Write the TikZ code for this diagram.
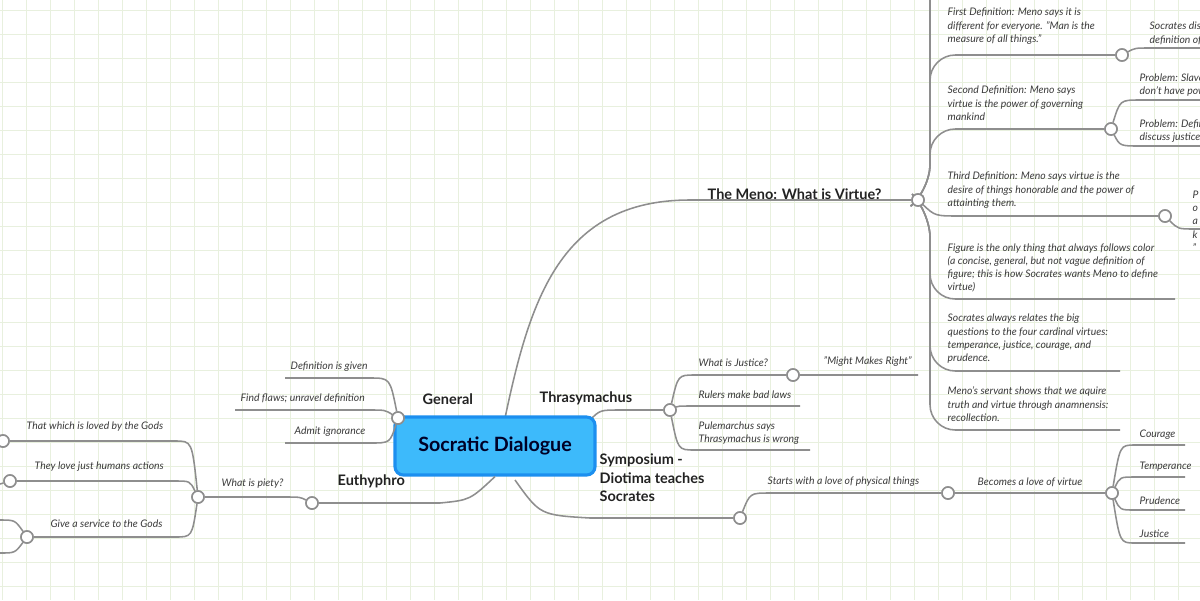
\documentclass[tikz,border=0pt]{standalone}
\usepackage{fontspec}
\setmainfont{Lato}
\begin{document}
\begin{tikzpicture}[x=0.025cm,y=-0.025cm,
  ln/.style={draw=lineg,line width=1.1pt},
  jn/.style={circle,draw=lineg,fill=white,line width=1.1pt,minimum size=0.3cm,inner sep=0pt},
  sm/.style={anchor=south west,inner sep=1pt,align=left,text=txt,font=\fontsize{7.4}{9.4}\selectfont\itshape},
  bg/.style={anchor=south west,inner sep=1pt,align=left,text=txtb,font=\fontsize{10.3}{13.3}\selectfont\bfseries}]
\definecolor{lineg}{HTML}{8E8E8E}\definecolor{txt}{HTML}{3A3A3A}\definecolor{txtb}{HTML}{222222}
\definecolor{grid}{HTML}{E8F0DE}\definecolor{cfill}{HTML}{3DBAFB}\definecolor{cdraw}{HTML}{1C8FEF}
\useasboundingbox (0,0) rectangle (1200,600);
\clip (0,0) rectangle (1200,600);
\fill[white] (0,0) rectangle (1200,600);
\foreach \i in {0,...,50} {\draw[grid,line width=0.5pt] (2+\i*24,0) -- (2+\i*24,600);}
\foreach \i in {0,...,25} {\draw[grid,line width=0.5pt] (0,10+\i*24) -- (1200,10+\i*24);}
% Meno
\coordinate (c1) at (505,418);
\node[jn] (meno) at (918,200) {};
\draw[ln] (c1) .. controls (530,300) and (560,200) .. (690,200) -- (meno);
\node[bg] at (706,201) {The Meno: What is Virtue?};
\draw[ln,rounded corners=18] (meno) -- (930,190) -- (930,0);
\node[jn] (d1) at (1122,55) {};
\draw[ln,rounded corners=18] (meno) -- (930,190) -- (930,55) -- (d1);
\node[sm] at (946,46) {First Definition: Meno says it is\\different for everyone. "Man is the\\measure of all things."};
\draw[ln] (d1) .. controls (1135,48) .. (1150,48) -- (1200,48);
\node[sm] at (1148,46) {Socrates disagrees with this\\definition of virtue};
\node[jn] (d2) at (1111,129) {};
\draw[ln,rounded corners=18] (meno) -- (930,190) -- (930,129) -- (d2);
\node[sm] at (946,122) {Second Definition: Meno says\\virtue is the power of governing\\mankind};
\draw[ln] (d2) .. controls (1120,100) .. (1140,100) -- (1200,100);
\draw[ln] (d2) .. controls (1120,146) .. (1140,146) -- (1200,146);
\node[sm] at (1138,98) {Problem: Slaves\\don't have power};
\node[sm] at (1138,144) {Problem: Definitions\\discuss justice};
\node[jn] (d3) at (1165,216) {};
\draw[ln] (meno) .. controls (935,216) .. (960,216) -- (d3);
\node[sm] at (946,210) {Third Definition: Meno says virtue is the\\desire of things honorable and the power of\\attainting them.};
\draw[ln] (d3) .. controls (1178,229) .. (1195,229) -- (1200,229);
\node[sm] at (1191,253) {P\\o\\a\\k\\"};
\draw[ln,rounded corners=18] (meno) -- (930,212) -- (930,299) -- (1175,299);
\node[sm] at (946,294) {Figure is the only thing that always follows color\\(a concise, general, but not vague definition of\\figure; this is how Socrates wants Meno to define\\virtue)};
\draw[ln,rounded corners=18] (meno) -- (930,212) -- (930,371) -- (1120,371);
\node[sm] at (946,365) {Socrates always relates the big\\questions to the four cardinal virtues:\\temperance, justice, courage, and\\prudence.};
\draw[ln,rounded corners=18] (meno) -- (930,212) -- (930,430) -- (1120,430);
\node[sm] at (946,423) {Meno's servant shows that we aquire\\truth and virtue through anamnensis:\\recollection.};
% Thrasymachus
\node[jn] (th) at (670,410) {};
\draw[ln] (590,420) .. controls (600,410) .. (620,410) -- (th);
\node[bg] at (538,407) {Thrasymachus};
\node[jn] (wj) at (793,375) {};
\draw[ln] (th) .. controls (678,375) .. (695,375) -- (wj) -- (918,375);
\node[sm] at (697,368) {What is Justice?};
\node[sm] at (822,368) {"Might Makes Right"};
\draw[ln] (th) .. controls (678,406) .. (695,406) -- (800,406);
\node[sm] at (697,400) {Rulers make bad laws};
\draw[ln] (th) .. controls (678,450) .. (695,450) -- (810,450);
\node[sm] at (697,446) {Pulemarchus says\\Thrasymachus is wrong};
% Symposium
\node[jn] (sy) at (740,518) {};
\draw[ln] (515,480) .. controls (540,515) .. (590,518) -- (sy);
\node[bg,anchor=north west] at (598,452) {Symposium -\\Diotima teaches\\Socrates};
\node[jn] (sa) at (948,493) {};
\draw[ln] (sy) .. controls (750,493) .. (770,493) -- (sa);
\node[sm] at (766,488) {Starts with a love of physical things};
\node[jn] (sb) at (1112,493) {};
\draw[ln] (sa) -- (sb);
\node[sm] at (976,488) {Becomes a love of virtue};
\foreach \t/\yy in {Courage/445,Temperance/477,Prudence/510,Justice/543} {
  \draw[ln] (sb) .. controls (1120,\yy) .. (1135,\yy) -- (1185,\yy);
  \node[sm] at (1138,\yy-4) {\t};}
% central node
\node[rounded corners=6pt,fill=cfill,draw=cdraw,line width=2.2pt,minimum width=5cm,minimum height=1.45cm,text=black!85!blue,font=\fontsize{14}{16}\selectfont\bfseries] (center) at (495,446) {Socratic Dialogue};
% General
\node[jn] (ge) at (398,418) {};
\draw[ln] (ge) -- (center.north west);
\node[bg] at (421,406) {General};
\draw[ln] (ge) .. controls (390,378) .. (370,378) -- (285,378);
\node[sm] at (289,373) {Definition is given};
\draw[ln] (ge) .. controls (385,410) .. (370,410) -- (235,410);
\node[sm] at (239,405) {Find flaws; unravel definition};
\draw[ln] (ge) .. controls (390,443) .. (370,443) -- (285,443);
\node[sm] at (293,438) {Admit ignorance};
% Euthyphro
\node[jn] (eu) at (312,503) {};
\draw[ln] (center.south) .. controls (470,500) .. (440,503) -- (eu);
\node[bg] at (336,490) {Euthyphro};
\node[jn] (pi) at (198,497) {};
\draw[ln] (eu) .. controls (300,497) .. (285,497) -- (pi);
\node[sm] at (220,490) {What is piety?};
\node[jn] (e1) at (3,441) {};
\draw[ln] (pi) .. controls (192,441) .. (175,441) -- (e1);
\node[sm] at (25,433) {That which is loved by the Gods};
\node[jn] (e2) at (10,481) {};
\draw[ln] (pi) .. controls (190,481) .. (175,481) -- (e2);
\node[sm] at (33,473) {They love just humans actions};
\node[jn] (e3) at (27,537) {};
\draw[ln] (pi) .. controls (192,537) .. (175,537) -- (e3);
\node[sm] at (49,529) {Give a service to the Gods};
\draw[ln] (e3) .. controls (15,520) .. (0,520);
\draw[ln] (e3) .. controls (15,553) .. (0,553);
\draw[ln] (e2) -- (0,484);
% junction circles on top
\foreach \n in {meno,d1,d2,d3,th,wj,sy,sa,sb,ge,eu,pi,e1,e2,e3} {\node[jn] at (\n) {};}
\end{tikzpicture}
\end{document}
